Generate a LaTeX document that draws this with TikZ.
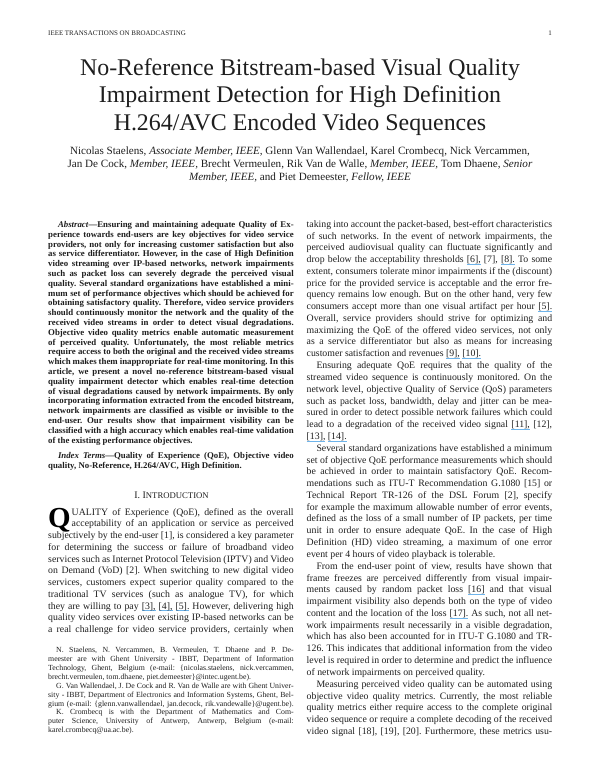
\documentclass[tikz,border=0pt]{standalone}
\usepackage{fontspec}
\setmainfont{Liberation Serif}
\usepackage{xcolor}
\definecolor{PageInk}{RGB}{30,30,30}
\definecolor{LinkBlue}{RGB}{110,180,235}
\usetikzlibrary{positioning}

\newcommand{\stretchsp}{\frenchspacing\spaceskip=.25em plus 2em minus .11em\relax}
\newcommand{\fixline}{\ht2=.7\baselineskip \dp2=.3\baselineskip \box2\relax}
% one justified line, one paragraph opening line, one closing line
\newcommand{\jline}[1]{\setbox2\hbox to 245.5pt{\stretchsp #1}\fixline}
\newcommand{\pline}[1]{\setbox2\hbox to 245.5pt{\stretchsp\hskip 9.8pt\relax #1}\fixline}
\newcommand{\fline}[1]{\setbox2\hbox to 245.5pt{\stretchsp\hskip 8pt\relax #1}\fixline}
\newcommand{\eline}[1]{\setbox2\hbox{\stretchsp #1}\fixline}
\newcommand{\dline}[1]{\setbox2\hbox to 245.5pt{\stretchsp\hskip 23.5pt\relax #1}\fixline}
\newcommand{\reflink}[1]{\setbox0\hbox{#1}\rlap{\color{LinkBlue}\rule[-1.9pt]{\wd0}{0.7pt}}\box0\relax}

\begin{document}
\begin{tikzpicture}[
    x=1pt, y=-1pt,
    pagetext/.style={inner sep=0pt, text=PageInk},
    header/.style={pagetext, font=\fontsize{6.95}{8}\selectfont},
    title/.style={pagetext, align=center, font=\fontsize{23.9}{27.4}\selectfont},
    authors/.style={pagetext, align=center, font=\fontsize{11.1}{13}\selectfont},
    column/.style={pagetext, anchor=north west, text width=245.5pt},
    abstract/.style={column, font=\fontsize{8.8}{9.8}\selectfont\bfseries},
    body/.style={column, font=\fontsize{9.8}{11.75}\selectfont},
    foot/.style={column, font=\fontsize{7.8}{8.85}\selectfont},
    section/.style={pagetext, font=\fontsize{10}{11.75}\selectfont},
    dropcap/.style={pagetext, anchor=base west, text=black, font=\fontsize{29}{29}\selectfont\bfseries},
]
\useasboundingbox (0,0) rectangle (600,776);

% ============================================
% PAGE HEADER
% ============================================
\node[header, anchor=base west] (journal) at (48,35.5) {IEEE TRANSACTIONS ON BROADCASTING};
\node[header, anchor=base east] (pagenum) at (552,35.5) {1};

% ============================================
% TITLE AND AUTHORS
% ============================================
\node[title, anchor=north] (papertitle) at (300,56) {
    \strut No-Reference Bitstream-based Visual Quality\\
    \strut Impairment Detection for High Definition\\
    \strut H.264/AVC Encoded Video Sequences
};

\node[authors, below=6.5pt of papertitle] (names) {
    \strut Nicolas Staelens, \textit{Associate Member, IEEE,} Glenn Van Wallendael, Karel Crombecq, Nick Vercammen,\\
    \strut Jan De Cock, \textit{Member, IEEE,} Brecht Vermeulen, Rik Van de Walle, \textit{Member, IEEE,} Tom Dhaene, \textit{Senior}\\
    \strut \textit{Member, IEEE,} and Piet Demeester, \textit{Fellow, IEEE}
};

% ============================================
% LEFT COLUMN - ABSTRACT
% ============================================
\node[abstract] (abstracttext) at (48,220.5) {
    \pline{\textit{Abstract}---Ensuring and maintaining adequate Quality of Ex-}
    \jline{perience towards end-users are key objectives for video service}
    \jline{providers, not only for increasing customer satisfaction but also}
    \jline{as service differentiator. However, in the case of High Definition}
    \jline{video streaming over IP-based networks, network impairments}
    \jline{such as packet loss can severely degrade the perceived visual}
    \jline{quality. Several standard organizations have established a mini-}
    \jline{mum set of performance objectives which should be achieved for}
    \jline{obtaining satisfactory quality. Therefore, video service providers}
    \jline{should continuously monitor the network and the quality of the}
    \jline{received video streams in order to detect visual degradations.}
    \jline{Objective video quality metrics enable automatic measurement}
    \jline{of perceived quality. Unfortunately, the most reliable metrics}
    \jline{require access to both the original and the received video streams}
    \jline{which makes them inappropriate for real-time monitoring. In this}
    \jline{article, we present a novel no-reference bitstream-based visual}
    \jline{quality impairment detector which enables real-time detection}
    \jline{of visual degradations caused by network impairments. By only}
    \jline{incorporating information extracted from the encoded bitstream,}
    \jline{network impairments are classified as visible or invisible to the}
    \jline{end-user. Our results show that impairment visibility can be}
    \jline{classified with a high accuracy which enables real-time validation}
    \eline{of the existing performance objectives.}
};

\node[abstract, below=5pt of abstracttext.south west, anchor=north west] (indexterms) {
    \pline{\textit{Index Terms}---Quality of Experience (QoE), Objective video}
    \eline{quality, No-Reference, H.264/AVC, High Definition.}
};

% ============================================
% LEFT COLUMN - INTRODUCTION
% ============================================
\node[section, anchor=base] (introhead) at (171.5,498) {I. I{\fontsize{8.7}{9}\selectfont NTRODUCTION}};

\node[body] (introtext) at (48,506.8) {
    \dline{UALITY of Experience (QoE), defined as the overall}
    \dline{acceptability of an application or service as perceived}
    \jline{subjectively by the end-user [1], is considered a key parameter}
    \jline{for determining the success or failure of broadband video}
    \jline{services such as Internet Protocol Television (IPTV) and Video}
    \jline{on Demand (VoD) [2]. When switching to new digital video}
    \jline{services, customers expect superior quality compared to the}
    \jline{traditional TV services (such as analogue TV), for which}
    \jline{they are willing to pay \reflink{[3],} \reflink{[4],} \reflink{[5].} However, delivering high}
    \jline{quality video services over existing IP-based networks can be}
    \jline{a real challenge for video service providers, certainly when}
};
\node[dropcap] (dropq) at (48,527.5) {Q};

% ============================================
% LEFT COLUMN - FOOTNOTES
% ============================================
\node[foot] (thanks) at (48,646.5) {
    \fline{N. Staelens, N. Vercammen, B. Vermeulen, T. Dhaene and P. De-}
    \jline{meester are with Ghent University - IBBT, Department of Information}
    \jline{Technology, Ghent, Belgium (e-mail: \{nicolas.staelens, nick.vercammen,}
    \eline{brecht.vermeulen, tom.dhaene, piet.demeester\}@intec.ugent.be).}
    \fline{G. Van Wallendael, J. De Cock and R. Van de Walle are with Ghent Univer-}
    \jline{sity - IBBT, Department of Electronics and Information Systems, Ghent, Bel-}
    \jline{gium (e-mail: \{glenn.vanwallendael, jan.decock, rik.vandewalle\}@ugent.be).}
    \fline{K. Crombecq is with the Department of Mathematics and Com-}
    \jline{puter Science, University of Antwerp, Antwerp, Belgium (e-mail:}
    \eline{karel.crombecq@ua.ac.be).}
};

% ============================================
% RIGHT COLUMN
% ============================================
\node[body] (para1) at (306.5,219) {
    \jline{taking into account the packet-based, best-effort characteristics}
    \jline{of such networks. In the event of network impairments, the}
    \jline{perceived audiovisual quality can fluctuate significantly and}
    \jline{drop below the acceptability thresholds \reflink{[6],} [7], \reflink{[8].} To some}
    \jline{extent, consumers tolerate minor impairments if the (discount)}
    \jline{price for the provided service is acceptable and the error fre-}
    \jline{quency remains low enough. But on the other hand, very few}
    \jline{consumers accept more than one visual artifact per hour \reflink{[5].}}
    \jline{Overall, service providers should strive for optimizing and}
    \jline{maximizing the QoE of the offered video services, not only}
    \jline{as a service differentiator but also as means for increasing}
    \eline{customer satisfaction and revenues \reflink{[9],} \reflink{[10].}}
};

\node[body, below=0pt of para1.south west, anchor=north west] (para2) {
    \pline{Ensuring adequate QoE requires that the quality of the}
    \jline{streamed video sequence is continuously monitored. On the}
    \jline{network level, objective Quality of Service (QoS) parameters}
    \jline{such as packet loss, bandwidth, delay and jitter can be mea-}
    \jline{sured in order to detect possible network failures which could}
    \jline{lead to a degradation of the received video signal \reflink{[11],} [12],}
    \eline{\reflink{[13],} \reflink{[14].}}
};

\node[body, below=0pt of para2.south west, anchor=north west] (para3) {
    \pline{Several standard organizations have established a minimum}
    \jline{set of objective QoE performance measurements which should}
    \jline{be achieved in order to maintain satisfactory QoE. Recom-}
    \jline{mendations such as ITU-T Recommendation G.1080 [15] or}
    \jline{Technical Report TR-126 of the DSL Forum [2], specify}
    \jline{for example the maximum allowable number of error events,}
    \jline{defined as the loss of a small number of IP packets, per time}
    \jline{unit in order to ensure adequate QoE. In the case of High}
    \jline{Definition (HD) video streaming, a maximum of one error}
    \eline{event per 4 hours of video playback is tolerable.}
};

\node[body, below=0pt of para3.south west, anchor=north west] (para4) {
    \pline{From the end-user point of view, results have shown that}
    \jline{frame freezes are perceived differently from visual impair-}
    \jline{ments caused by random packet loss \reflink{[16]} and that visual}
    \jline{impairment visibility also depends both on the type of video}
    \jline{content and the location of the loss \reflink{[17].} As such, not all net-}
    \jline{work impairments result necessarily in a visible degradation,}
    \jline{which has also been accounted for in ITU-T G.1080 and TR-}
    \jline{126. This indicates that additional information from the video}
    \jline{level is required in order to determine and predict the influence}
    \eline{of network impairments on perceived quality.}
};

\node[body, below=0pt of para4.south west, anchor=north west] (para5) {
    \pline{Measuring perceived video quality can be automated using}
    \jline{objective video quality metrics. Currently, the most reliable}
    \jline{quality metrics either require access to the complete original}
    \jline{video sequence or require a complete decoding of the received}
    \jline{video signal [18], [19], [20]. Furthermore, these metrics usu-}
};

\end{tikzpicture}
\end{document}
